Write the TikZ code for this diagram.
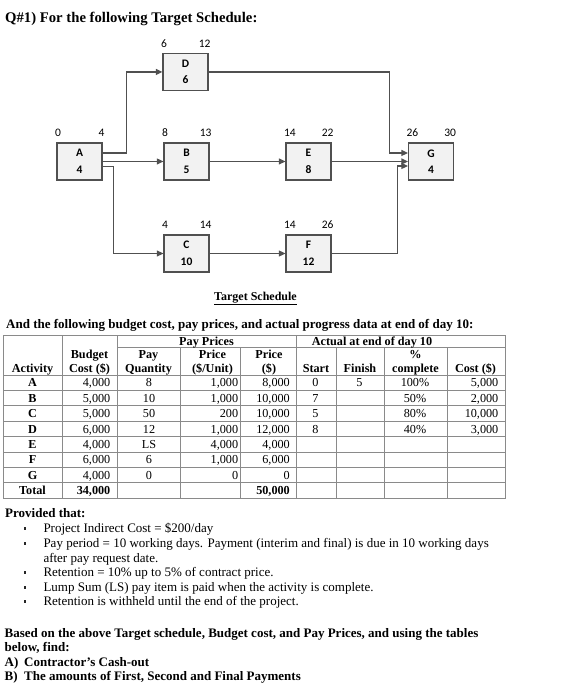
\documentclass[tikz,border=0pt]{standalone}
\usepackage{fontspec}
\setmainfont{Liberation Serif}
\newfontfamily\carl{Carlito}
\usetikzlibrary{arrows.meta}
\definecolor{boxfill}{HTML}{F2F2F2}
\definecolor{boxline}{HTML}{505050}
\definecolor{linec}{HTML}{505050}
\definecolor{gridc}{HTML}{8A8A8A}
\begin{document}
\begin{tikzpicture}[x=1pt,y=-1pt,
  box/.style={draw=boxline, fill=boxfill, line width=1.3pt, minimum width=45pt, minimum height=37pt, inner sep=0pt, align=center, font=\carl\bfseries\fontsize{11.5}{16.5}\selectfont},
  arr/.style={draw=linec, line width=1.3pt, -{Triangle[length=6.5pt,width=6pt]}},
  lab/.style={inner sep=0pt, font=\carl\fontsize{11.5}{13}\selectfont},
  tl/.style={draw=gridc, line width=0.9pt},
  tx/.style={inner sep=0pt, font=\fontsize{12.2}{13}\selectfont},
  tb/.style={inner sep=0pt, font=\bfseries\fontsize{12.2}{13}\selectfont},
  body/.style={anchor=base west, inner sep=0pt, font=\fontsize{13}{15}\selectfont},
  bbody/.style={anchor=base west, inner sep=0pt, font=\bfseries\fontsize{13}{15}\selectfont},
  bul/.style={fill=black!85, inner sep=0pt, minimum width=2.3pt, minimum height=3pt}]
\useasboundingbox (0,0) rectangle (584,700);

% title
\node[anchor=base west, inner sep=0pt, font=\bfseries\fontsize{14.7}{17}\selectfont] (title) at (5,22.7) {Q\#1) For the following Target Schedule:};

% network
\node[box] (A) at (79.5,161.5) {A\\4};
\node[box] (D) at (185.5,72) {D\\6};
\node[box] (B) at (186.5,161.5) {B\\5};
\node[box] (E) at (308.5,161.5) {E\\8};
\node[box] (G) at (431,161.5) {G\\4};
\node[box] (C) at (186.5,253.5) {C\\10};
\node[box] (F) at (308.5,253.5) {F\\12};

\foreach \n/\l/\r in {A/0/4, D/6/12, B/8/13, E/14/22, G/26/30, C/4/14, F/14/26} {
  \node[lab, anchor=base west] (l\n) at ([xshift=-1.5pt,yshift=5.4pt]\n.north west) {\l};
  \node[lab, anchor=base east] (r\n) at ([xshift=2pt,yshift=5.4pt]\n.north east) {\r};
}

\draw[arr] ([yshift=8.5pt]A.east) -- ++(23.5,0) |- (D.west);
\draw[arr] (A.east) -- (B.west);
\draw[arr] ([yshift=-5pt]A.east) -- ++(10.5,0) |- (C.west);
\draw[arr] (B.east) -- (E.west);
\draw[arr] (C.east) -- (F.west);
\draw[arr] (D.east) -- ++(180.5,0) |- ([yshift=8.5pt]G.west);
\draw[arr] (E.east) -- (G.west);
\draw[arr] (F.east) -- ++(66,0) |- ([yshift=-4.5pt]G.west);

\node[anchor=base, inner sep=0pt, font=\bfseries\fontsize{12}{14}\selectfont] (cap) at (255.5,300) {\underline{Target Schedule}};

% intro
\node[bbody] (intro) at (6,328.3) {And the following budget cost, pay prices, and actual progress data at end of day 10:};

% table grid
\def\ya{335}\def\yb{347.3}\def\yc{375}\def\ye{498.2}
\draw[tl] (3,\ya) rectangle (505,\ye);
\draw[tl] (117,\yb) -- (505,\yb);
\draw[tl] (3,\yc) -- (505,\yc);
\foreach \k in {1,...,7} { \draw[tl] (3,{\yc+15.4*\k}) -- (505,{\yc+15.4*\k}); }
\foreach \x in {62,117,296} { \draw[tl] (\x,\ya) -- (\x,\ye); }
\foreach \x in {180,240,336,384,447} { \draw[tl] (\x,\yb) -- (\x,\ye); }

% header
\node[tb, anchor=base] (hpp) at (206.5,345) {Pay Prices};
\node[tb, anchor=base] (hact) at (372,345) {Actual at end of day 10};
\node[tb, anchor=base] (h1) at (32.5,372.3) {Activity};
\node[tb, anchor=base] (h2a) at (89.5,358.8) {Budget};
\node[tb, anchor=base] (h2b) at (89.5,372.3) {Cost (\$)};
\node[tb, anchor=base] (h3a) at (148.5,358.8) {Pay};
\node[tb, anchor=base] (h3b) at (148.5,372.3) {Quantity};
\node[tb, anchor=base] (h4a) at (212.5,358.8) {Price};
\node[tb, anchor=base] (h4b) at (212.5,372.3) {(\$/Unit)};
\node[tb, anchor=base] (h5a) at (269,358.8) {Price};
\node[tb, anchor=base] (h5b) at (269,372.3) {(\$)};
\node[tb, anchor=base] (h6) at (316,372.3) {Start};
\node[tb, anchor=base] (h7) at (360,372.3) {Finish};
\node[tb, anchor=base] (h8a) at (415.5,358.8) {\%};
\node[tb, anchor=base] (h8b) at (415.5,372.3) {complete};
\node[tb, anchor=base] (h9) at (475.5,372.3) {Cost (\$)};

% rows
\foreach \vact/\vbud/\vqty/\vpu/\vpr/\vst/\vfn/\vpc/\vco [count=\k from 0] in {
  A/4{,}000/8/1{,}000/8{,}000/0/5/100\%/5{,}000,
  B/5{,}000/10/1{,}000/10{,}000/7//50\%/2{,}000,
  C/5{,}000/50/200/10{,}000/5//80\%/10{,}000,
  D/6{,}000/12/1{,}000/12{,}000/8//40\%/3{,}000,
  E/4{,}000/LS/4{,}000/4{,}000////,
  F/6{,}000/6/1{,}000/6{,}000////,
  G/4{,}000/0/0/0////} {
  \pgfmathsetmacro{\yy}{386.7+15.45*\k}
  \node[tb, anchor=base] (a\k) at (32.5,\yy) {\vact};
  \node[tx, anchor=base east] (b\k) at (110.5,\yy) {\vbud};
  \node[tx, anchor=base] (q\k) at (149,\yy) {\vqty};
  \node[tx, anchor=base east] (u\k) at (238.3,\yy) {\vpu};
  \node[tx, anchor=base east] (p\k) at (290,\yy) {\vpr};
  \node[tx, anchor=base] (s\k) at (315.5,\yy) {\vst};
  \node[tx, anchor=base] (f\k) at (359.5,\yy) {\vfn};
  \node[tx, anchor=base] (c\k) at (415,\yy) {\vpc};
  \node[tx, anchor=base east] (o\k) at (498.5,\yy) {\vco};
}
\node[tb, anchor=base] (tot) at (32.5,494.8) {Total};
\node[tb, anchor=base east] (totb) at (110.5,494.8) {34,000};
\node[tb, anchor=base east] (totp) at (290,494.8) {50,000};

% provided
\node[bbody] (prov) at (5,517.3) {Provided that:};
\foreach \yy/\t [count=\i] in {532.3/{Project Indirect Cost = \$200/day},
  547.3/{Pay period = 10 working days. Payment (interim and final) is due in 10 working days},
  576.7/{Retention = 10\% up to 5\% of contract price.},
  591.2/{Lump Sum (LS) pay item is paid when the activity is complete.},
  605.5/{Retention is withheld until the end of the project.}} {
  \node[bul] (bu\i) at (25,\yy-4) {};
  \node[body] (it\i) at (43.3,\yy) {\t};
}
\node[body] (it2b) at (43.3,562) {after pay request date.};

% question
\node[bbody] (q1) at (4.5,637) {Based on the above Target schedule, Budget cost, and Pay Prices, and using the tables};
\node[bbody] (q2) at (4.5,651.6) {below, find:};
\node[bbody] (qa) at (4.5,666.2) {A)};
\node[bbody] (qat) at (24,666.2) {Contractor’s Cash-out};
\node[bbody] (qb) at (4.5,680.8) {B)};
\node[bbody] (qbt) at (24,680.8) {The amounts of First, Second and Final Payments};
\end{tikzpicture}
\end{document}
